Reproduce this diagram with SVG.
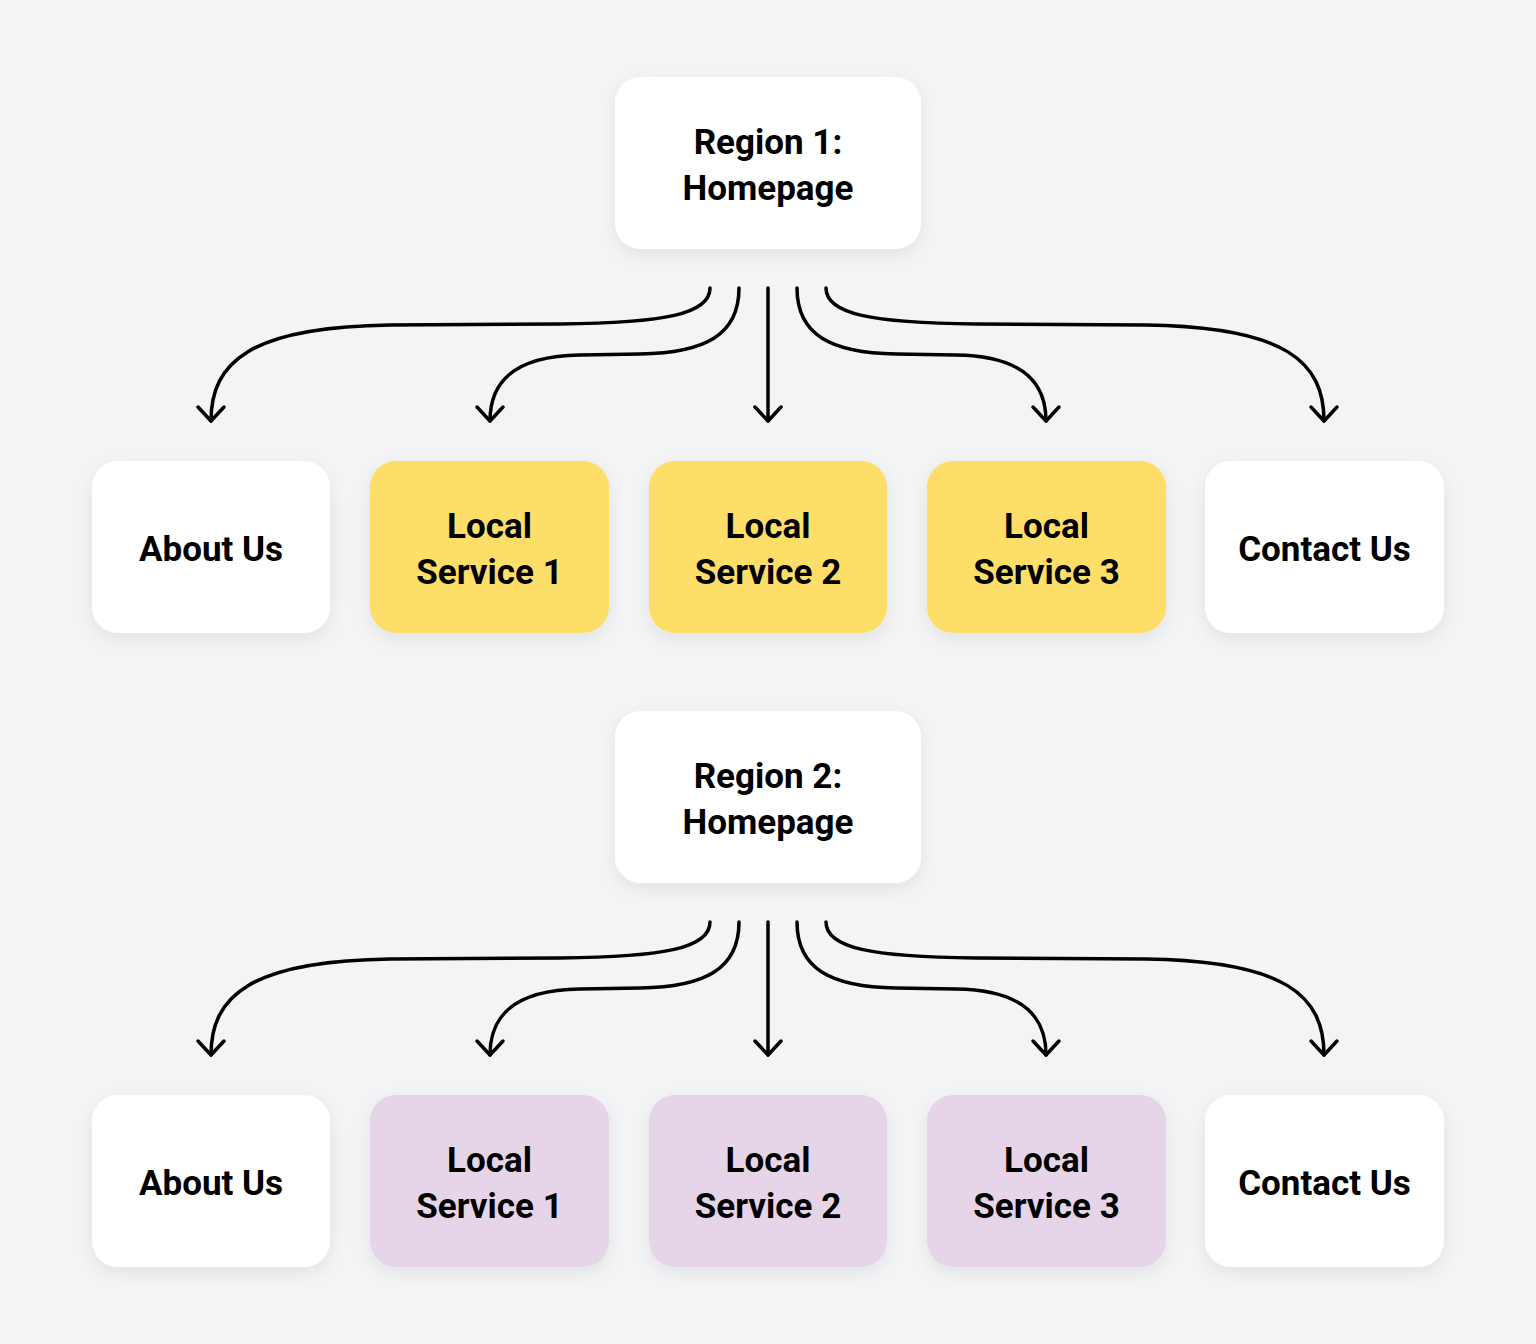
<svg xmlns="http://www.w3.org/2000/svg" width="1536" height="1344" viewBox="0 0 1536 1344">
<defs>
<filter id="sh" x="-20%" y="-20%" width="140%" height="150%">
<feDropShadow dx="0" dy="6" stdDeviation="9" flood-color="#000" flood-opacity="0.07"/>
</filter>
<marker id="ah" markerUnits="userSpaceOnUse" markerWidth="40" markerHeight="40" viewBox="-20 -20 40 40" refX="0" refY="0" orient="auto">
<path d="M-14,-13 L0,0 L-14,13" fill="none" stroke="#000" stroke-width="3.5" stroke-linecap="round" stroke-linejoin="round"/>
</marker>
</defs>
<style>
.box{filter:url(#sh);}
.w{fill:#ffffff;}
.y{fill:#fcde67;}
.p{fill:#e6d5e8;}
.t{font-family:Roboto,"Liberation Sans",sans-serif;font-weight:700;font-size:35px;fill:#000;text-anchor:middle;}
.c{fill:none;stroke:#000;stroke-width:3.5;stroke-linecap:round;marker-end:url(#ah);}
</style>
<rect width="1536" height="1344" fill="#f3f4f6"/>

<g id="connectors">
<g id="conn-r1">
<path class="c" d="M710 288 C710 314 665 323 560 324 L390 325 C250 327 211 362 211 421"/>
<path class="c" d="M739 288 C739 335 705 353 640 354 L580 355 C510 356 490 385 490 421"/>
<path class="c" d="M768 288 L768 421"/>
<path class="c" d="M797 288 C797 335 831 353 896 354 L956 355 C1026 356 1046 385 1046 421"/>
<path class="c" d="M826 288 C826 314 871 323 976 324 L1146 325 C1286 327 1324 362 1324 421"/>
</g>
<g id="conn-r2" transform="translate(0,634)">
<path class="c" d="M710 288 C710 314 665 323 560 324 L390 325 C250 327 211 362 211 421"/>
<path class="c" d="M739 288 C739 335 705 353 640 354 L580 355 C510 356 490 385 490 421"/>
<path class="c" d="M768 288 L768 421"/>
<path class="c" d="M797 288 C797 335 831 353 896 354 L956 355 C1026 356 1046 385 1046 421"/>
<path class="c" d="M826 288 C826 314 871 323 976 324 L1146 325 C1286 327 1324 362 1324 421"/>
</g>
</g>

<g id="region1">
<rect class="box w" x="615" y="77" width="306" height="172" rx="26"/>
<text class="t" x="768" y="154">Region 1:</text>
<text class="t" x="768" y="200">Homepage</text>
</g>
<g id="r1-about">
<rect class="box w" x="92" y="461" width="238" height="172" rx="26"/>
<text class="t" x="211" y="561">About Us</text>
</g>
<g id="r1-local1">
<rect class="box y" x="370" y="461" width="239" height="172" rx="26"/>
<text class="t" x="489.5" y="538">Local</text>
<text class="t" x="489.5" y="584">Service 1</text>
</g>
<g id="r1-local2">
<rect class="box y" x="649" y="461" width="238" height="172" rx="26"/>
<text class="t" x="768" y="538">Local</text>
<text class="t" x="768" y="584">Service 2</text>
</g>
<g id="r1-local3">
<rect class="box y" x="927" y="461" width="239" height="172" rx="26"/>
<text class="t" x="1046.5" y="538">Local</text>
<text class="t" x="1046.5" y="584">Service 3</text>
</g>
<g id="r1-contact">
<rect class="box w" x="1205" y="461" width="239" height="172" rx="26"/>
<text class="t" x="1324.5" y="561">Contact Us</text>
</g>

<g id="region2">
<rect class="box w" x="615" y="711" width="306" height="172" rx="26"/>
<text class="t" x="768" y="788">Region 2:</text>
<text class="t" x="768" y="834">Homepage</text>
</g>
<g id="r2-about">
<rect class="box w" x="92" y="1095" width="238" height="172" rx="26"/>
<text class="t" x="211" y="1195">About Us</text>
</g>
<g id="r2-local1">
<rect class="box p" x="370" y="1095" width="239" height="172" rx="26"/>
<text class="t" x="489.5" y="1172">Local</text>
<text class="t" x="489.5" y="1218">Service 1</text>
</g>
<g id="r2-local2">
<rect class="box p" x="649" y="1095" width="238" height="172" rx="26"/>
<text class="t" x="768" y="1172">Local</text>
<text class="t" x="768" y="1218">Service 2</text>
</g>
<g id="r2-local3">
<rect class="box p" x="927" y="1095" width="239" height="172" rx="26"/>
<text class="t" x="1046.5" y="1172">Local</text>
<text class="t" x="1046.5" y="1218">Service 3</text>
</g>
<g id="r2-contact">
<rect class="box w" x="1205" y="1095" width="239" height="172" rx="26"/>
<text class="t" x="1324.5" y="1195">Contact Us</text>
</g>
</svg>
